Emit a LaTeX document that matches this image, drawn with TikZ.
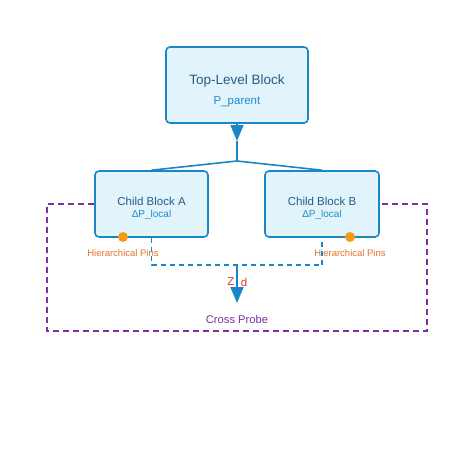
\documentclass[tikz,border=0pt]{standalone}
\usepackage{fontspec}
\setmainfont{Liberation Sans}
\usepackage{tikz}
\usetikzlibrary{arrows.meta}

\definecolor{blockline}{HTML}{1A86C8}
\definecolor{blockfill}{HTML}{E2F4FB}
\definecolor{blocktext}{HTML}{285A86}
\definecolor{subtext}{HTML}{1E8CCB}
\definecolor{pinorange}{HTML}{F39C12}
\definecolor{pintext}{HTML}{E8702A}
\definecolor{probepurple}{HTML}{7D2FA3}
\definecolor{zdred}{HTML}{D63B2F}

\tikzset{
  block/.style={draw=blockline,fill=blockfill,line width=1.6pt,rounded corners=4pt,inner sep=0pt},
  pin/.style={circle,fill=pinorange,inner sep=0pt,minimum size=10pt},
  hier/.style={draw=blockline,line width=1.4pt,dash pattern=on 5pt off 4pt},
  probe/.style={draw=probepurple,line width=1.7pt,dash pattern=on 6pt off 4pt}
}
\newcommand{\fs}[1]{\fontsize{#1}{#1}\selectfont}

\begin{document}
\begin{tikzpicture}[x=1pt,y=-1pt]
  \useasboundingbox (0,0) rectangle (474,474);

  \draw (237,85) node[block,minimum width=142pt,minimum height=76pt] (top) {};
  \draw (237,81.5) node[text=blocktext] (toptitle) {\fs{13.5}Top-Level Block};
  \draw (237,101.5) node[text=subtext] (topsub) {\fs{11.5}P\_parent};

  \draw (151.5,204) node[block,minimum width=113pt,minimum height=66pt] (childA) {};
  \draw (151.5,201) node[text=blocktext] (childAtitle) {\fs{11.5}Child Block A};
  \draw (151.5,215) node[text=subtext] (childAsub) {\fs{10}ΔP\_local};

  \draw (322,204) node[block,minimum width=114pt,minimum height=66pt] (childB) {};
  \draw (322,201) node[text=blocktext] (childBtitle) {\fs{11.5}Child Block B};
  \draw (322,215) node[text=subtext] (childBsub) {\fs{10}ΔP\_local};

  \coordinate (tip) at (237,141);
  \coordinate (split) at (237,161);
  \draw[blockline,line width=1.6pt,-{Triangle[width=13pt,length=16pt]}] (top.south) -- (tip);
  \draw[blockline,line width=1.6pt] (tip) -- (split);
  \draw[blockline,line width=1.6pt] (split) -- (childA.north);
  \draw[blockline,line width=1.6pt] (split) -- (childB.north);

  % hierarchical pins
  \draw (123,237) node[pin] (pinA) {};
  \draw (350,237) node[pin] (pinB) {};
  \draw (123,253) node[text=pintext] (pinAlabel) {\fs{9.5}Hierarchical Pins};
  \draw (350,253) node[text=pintext] (pinBlabel) {\fs{9.5}Hierarchical Pins};

  \coordinate (downA) at (151.5,265);
  \coordinate (downB) at (322,265);
  \coordinate (mid) at (237,265);
  \coordinate (probetip) at (237,303);
  \draw[hier] (151.5,238) -- (downA) -- (downB) -- (322,241);
  \draw[blockline,line width=1.6pt,-{Triangle[width=13pt,length=16pt]}] (mid) -- (probetip);
  \draw (231,282) node[text=zdred] (zlabel) {\fs{11.5}Z};
  \draw (244,282) node[text=zdred] (dlabel) {\fs{11.5}d};

  % cross probe loop
  \draw[probe] (childA.west |- 0,204) -- (47,204) -- (47,331) -- (427,331) -- (427,204) -- (childB.east |- 0,204);
  \draw (237,319) node[text=probepurple] (probe) {\fs{11.2}Cross Probe};
\end{tikzpicture}
\end{document}
